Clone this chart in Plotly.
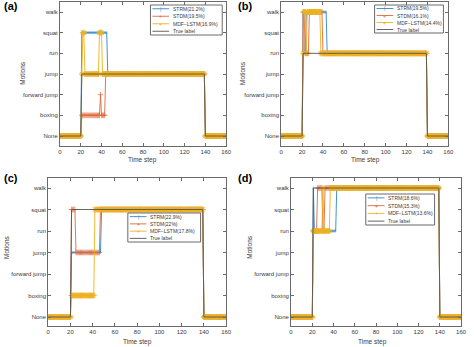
import plotly.graph_objects as go

# ---------------- data ----------------
motions = ['None', 'boxing', 'forward jump', 'jump', 'run', 'squat', 'walk']
x_ticks = [0, 20, 40, 60, 80, 100, 120, 140, 160]
series_names = ['STRM', 'STDM', 'MDF\u2212LSTM', 'True label']

# run-length segments: (motion index, first step, last step)
a_strm = [(0, 0, 20), (5, 21, 45), (3, 46, 139), (0, 140, 160)]
a_stdm = [(0, 0, 20), (1, 21, 38), (2, 39, 39), (1, 40, 43), (3, 44, 139), (0, 140, 160)]
a_mdf = [(0, 0, 20), (3, 21, 21), (5, 22, 23), (3, 24, 37), (5, 38, 40), (3, 41, 139), (0, 140, 160)]
a_true = [(0, 0, 20), (3, 21, 139), (0, 140, 160)]
a_acc = ['21.2%', '19.5%', '16.9%']

b_strm = [(0, 0, 20), (6, 21, 21), (4, 22, 23), (6, 24, 43), (4, 44, 139), (0, 140, 160)]
b_stdm = [(0, 0, 20), (6, 21, 22), (4, 23, 26), (6, 27, 39), (4, 40, 139), (0, 140, 160)]
b_mdf = [(0, 0, 20), (4, 21, 21), (6, 22, 23), (4, 24, 24), (6, 25, 37), (4, 38, 139), (0, 140, 160)]
b_true = [(0, 0, 20), (4, 21, 139), (0, 140, 160)]
b_acc = ['19.5%', '16.1%', '14.4%']

c_strm = [(0, 0, 20), (3, 21, 47), (5, 48, 139), (0, 140, 160)]
c_stdm = [(0, 0, 20), (5, 21, 24), (3, 25, 46), (5, 47, 139), (0, 140, 160)]
c_mdf = [(0, 0, 20), (1, 21, 41), (5, 42, 139), (0, 140, 160)]
c_true = [(0, 0, 20), (5, 21, 139), (0, 140, 160)]
c_acc = ['22.9%', '22%', '17.8%']

d_strm = [(0, 0, 20), (6, 21, 21), (4, 22, 42), (6, 43, 139), (0, 140, 160)]
d_stdm = [(0, 0, 20), (4, 21, 24), (6, 25, 29), (4, 30, 31), (6, 32, 139), (0, 140, 160)]
d_mdf = [(0, 0, 20), (4, 21, 29), (6, 30, 30), (4, 31, 36), (6, 37, 139), (0, 140, 160)]
d_true = [(0, 0, 20), (6, 21, 139), (0, 140, 160)]
d_acc = ['18.6%', '15.3%', '13.6%']

# ---------------- styling ----------------
W, H = 474, 347
colors = ['#2f86c8', '#e0693a', '#EDB120', '#555555']
symbols = ['line-ns-open', 'cross-thin-open', 'asterisk-open', None]
msizes = [2, 4, 5, 0]
mwidth = [0.6, 0.7, 0.9, 0]
FONT = 'Liberation Sans, Arial, sans-serif'
AX = '#6a6a6a'
TXT = '#3a3a3a'


def px_x(p):
    return p / W


def px_y(p):
    return 1 - p / H


def expand(segs):
    xs, ys = [], []
    for v, s, e in segs:
        for t in range(s, e + 1):
            xs.append(t)
            ys.append(v)
    return xs, ys


panels = [
    dict(tag='(a)', series=[a_strm, a_stdm, a_mdf, a_true], acc=a_acc,
         x0=59, x1=228, top=2, bot=146, ynone=136, ywalk=12,
         lab=(0, 6), ytit=(20, 73), xtit=(143, 160), leg=(151, 5, 224, 35)),
    dict(tag='(b)', series=[b_strm, b_stdm, b_mdf, b_true], acc=b_acc,
         x0=284, x1=454, top=2, bot=146, ynone=136, ywalk=12,
         lab=(238, 6), ytit=(244, 73), xtit=(370, 160), leg=(379, 5, 449, 33)),
    dict(tag='(c)', series=[c_strm, c_stdm, c_mdf, c_true], acc=c_acc,
         x0=47, x1=228, top=178, bot=326, ynone=317, ywalk=188,
         lab=(0, 178), ytit=(4, 247), xtit=(138, 342), leg=(128, 213, 202, 242)),
    dict(tag='(d)', series=[d_strm, d_stdm, d_mdf, d_true], acc=d_acc,
         x0=294, x1=467, top=178, bot=326, ynone=317, ywalk=188,
         lab=(238, 178), ytit=(251, 247), xtit=(377, 342), leg=(370, 194, 440, 225)),
]

fig = go.Figure()
layout = dict(width=W, height=H, margin=dict(l=0, r=0, t=0, b=0),
              paper_bgcolor='white', plot_bgcolor='white', showlegend=False,
              font=dict(family=FONT, size=6, color=TXT))
annotations = []
shapes = []

for i, p in enumerate(panels):
    n = '' if i == 0 else str(i + 1)
    xa, ya = 'x' + n, 'y' + n
    for k, segs in enumerate(p['series']):
        xs, ys = expand(segs)
        mode = 'lines' if k == 3 else 'lines+markers'
        tr = go.Scatter(x=xs, y=ys, mode=mode, xaxis=xa, yaxis=ya,
                        line=dict(color=colors[k], width=0.9), hoverinfo='skip')
        if k < 3:
            tr.marker = dict(symbol=symbols[k], size=msizes[k],
                             line=dict(color=colors[k], width=mwidth[k]), color=colors[k])
        fig.add_trace(tr)
    unit = (p['ynone'] - p['ywalk']) / 6
    ymin = -(p['bot'] - p['ynone']) / unit
    ymax = 6 + (p['ywalk'] - p['top']) / unit
    layout['xaxis' + n] = dict(domain=[px_x(p['x0']), px_x(p['x1'])], range=[0, 160],
                               anchor=ya, tickvals=x_ticks, ticks='inside', ticklen=3,
                               tickcolor=AX, showline=True, linecolor=AX, linewidth=1,
                               mirror='ticks', showgrid=False, zeroline=False,
                               tickfont=dict(size=6, color=TXT))
    layout['yaxis' + n] = dict(domain=[px_y(p['bot']), px_y(p['top'])], range=[ymin, ymax],
                               anchor=xa, tickvals=list(range(7)), ticktext=motions,
                               ticks='inside', ticklen=3, tickcolor=AX, showline=True,
                               linecolor=AX, linewidth=1, mirror='ticks', showgrid=False,
                               zeroline=False, tickfont=dict(size=6, color=TXT))
    annotations.append(dict(text='<b>%s</b>' % p['tag'], x=px_x(p['lab'][0]), y=px_y(p['lab'][1]),
                            xref='paper', yref='paper', xanchor='left', yanchor='middle',
                            showarrow=False, font=dict(size=11, color='black')))
    annotations.append(dict(text='Motions', x=px_x(p['ytit'][0]), y=px_y(p['ytit'][1]),
                            xref='paper', yref='paper', textangle=-90, showarrow=False,
                            xanchor='center', yanchor='middle', font=dict(size=6.5, color=TXT)))
    annotations.append(dict(text='Time step', x=px_x(p['xtit'][0]), y=px_y(p['xtit'][1]),
                            xref='paper', yref='paper', showarrow=False,
                            xanchor='center', yanchor='middle', font=dict(size=6.5, color=TXT)))
    lx0, ly0, lx1, ly1 = p['leg']
    shapes.append(dict(type='rect', xref='paper', yref='paper', x0=px_x(lx0), x1=px_x(lx1),
                       y0=px_y(ly1), y1=px_y(ly0), line=dict(color=AX, width=1),
                       fillcolor='white', layer='above'))
    labels = ['%s(%s)' % (series_names[k], p['acc'][k]) for k in range(3)] + [series_names[3]]
    rowh = (ly1 - ly0) / 4
    for k in range(4):
        cy = ly0 + rowh * (k + 0.5)
        shapes.append(dict(type='line', xref='paper', yref='paper', x0=px_x(lx0 + 2), x1=px_x(lx0 + 19),
                           y0=px_y(cy), y1=px_y(cy), line=dict(color=colors[k], width=0.9), layer='above'))
        if k < 3:
            glyph = ['|', '+', '+'][k]
            annotations.append(dict(text=glyph, x=px_x(lx0 + 10.5), y=px_y(cy), xref='paper', yref='paper',
                                    showarrow=False, xanchor='center', yanchor='middle',
                                    font=dict(size=5, color=colors[k])))
        annotations.append(dict(text=labels[k], x=px_x(lx0 + 21), y=px_y(cy), xref='paper', yref='paper',
                                showarrow=False, xanchor='left', yanchor='middle',
                                font=dict(size=5, color=TXT)))

layout['annotations'] = annotations
layout['shapes'] = shapes
fig.update_layout(**layout)
fig.write_html('out.html')
